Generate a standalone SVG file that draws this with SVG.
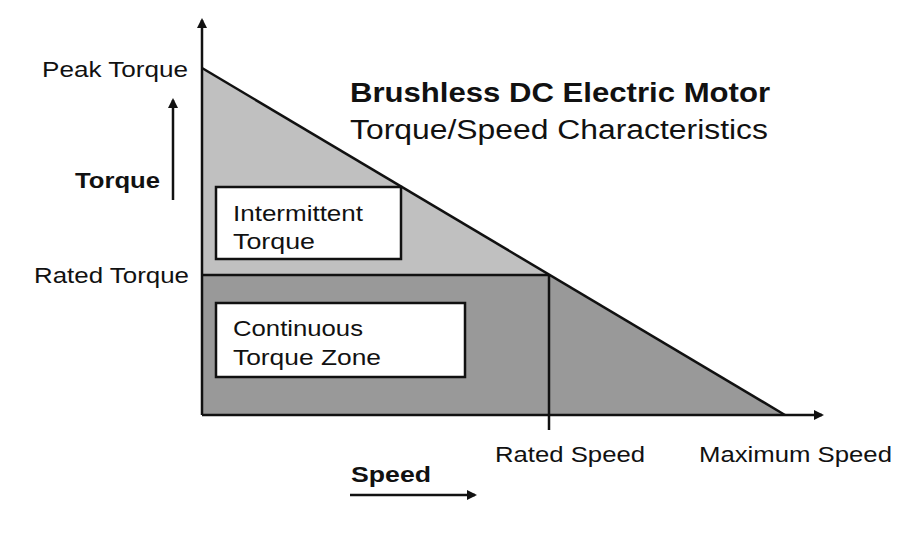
<svg xmlns="http://www.w3.org/2000/svg" width="907" height="547" viewBox="0 0 907 547">
<style>
text{font-family:"Liberation Sans",Arial,sans-serif;fill:#111}
.l{font-size:22px}
.ln{stroke:#111;stroke-width:2.5;fill:none}
.box{fill:#fff;stroke:#111;stroke-width:2.5}
</style>
<defs><marker id="a" markerWidth="10" markerHeight="10" refX="8" refY="5" orient="auto" markerUnits="userSpaceOnUse"><path d="M0,0L10,5L0,10z" fill="#111"/></marker></defs>
<rect width="907" height="547" fill="#fff"/>
<g id="zones">
<polygon points="202,68 549,275 202,275" fill="#c0c0c0"/>
<polygon points="202,275 549,275 785,415 202,415" fill="#999"/>
</g>
<g id="connectors">
<line class="ln" x1="202" y1="415" x2="202" y2="20" marker-end="url(#a)"/>
<line class="ln" x1="202" y1="415" x2="822" y2="415" marker-end="url(#a)"/>
<line class="ln" x1="202" y1="68" x2="785" y2="415"/>
<line class="ln" x1="202" y1="275" x2="549" y2="275"/>
<line class="ln" x1="549" y1="275" x2="549" y2="430"/>
<line class="ln" x1="173" y1="200" x2="173" y2="100" marker-end="url(#a)"/>
<line class="ln" x1="350" y1="495" x2="475" y2="495" marker-end="url(#a)"/>
</g>
<g id="intermittent"><rect class="box" x="216" y="187" width="185" height="72"/>
<text class="l" x="233" y="221" textLength="130" lengthAdjust="spacingAndGlyphs">Intermittent</text><text class="l" x="233" y="249" textLength="82" lengthAdjust="spacingAndGlyphs">Torque</text></g>
<g id="continuous"><rect class="box" x="216" y="303" width="249" height="74"/>
<text class="l" x="233" y="336" textLength="130" lengthAdjust="spacingAndGlyphs">Continuous</text><text class="l" x="233" y="365" textLength="148" lengthAdjust="spacingAndGlyphs">Torque Zone</text></g>
<g id="labels">
<text class="l" x="42" y="77" textLength="146" lengthAdjust="spacingAndGlyphs">Peak Torque</text>
<text class="l" x="34" y="283" textLength="155" lengthAdjust="spacingAndGlyphs">Rated Torque</text>
<text class="l" x="75" y="188" textLength="85" lengthAdjust="spacingAndGlyphs" font-weight="bold">Torque</text>
<text class="l" x="495" y="462" textLength="150" lengthAdjust="spacingAndGlyphs">Rated Speed</text>
<text class="l" x="699" y="462" textLength="193" lengthAdjust="spacingAndGlyphs">Maximum Speed</text>
<text class="l" x="351" y="482" textLength="80" lengthAdjust="spacingAndGlyphs" font-weight="bold">Speed</text>
<text x="350" y="102" font-size="27" font-weight="bold" textLength="420" lengthAdjust="spacingAndGlyphs">Brushless DC Electric Motor</text>
<text x="350" y="139" font-size="27" textLength="418" lengthAdjust="spacingAndGlyphs">Torque/Speed Characteristics</text>
</g>
</svg>
